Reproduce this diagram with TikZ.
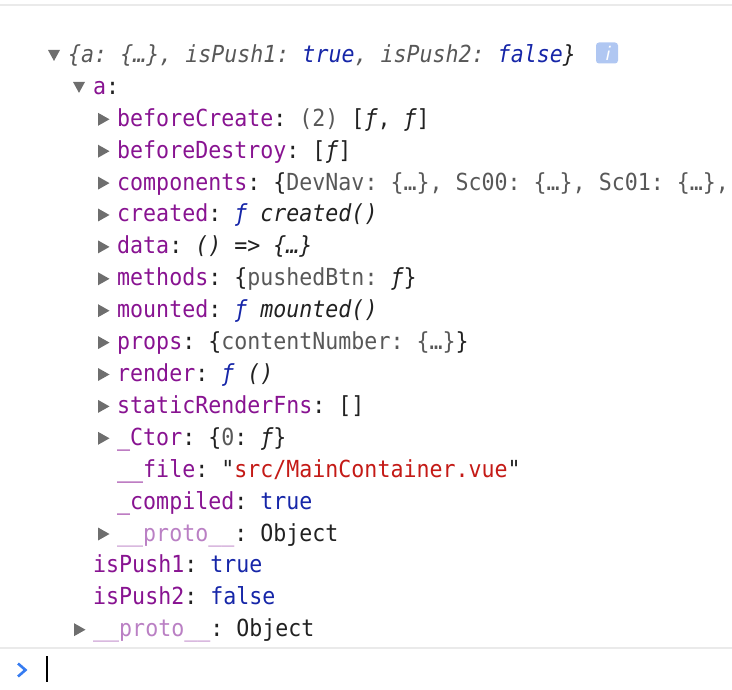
\documentclass[tikz,border=0pt]{standalone}
\usepackage{fontspec}
\setmonofont[FakeStretch=0.92]{DejaVu Sans Mono}
\usepackage{xcolor}
\definecolor{keyc}{RGB}{136,19,145}
\definecolor{protoc}{RGB}{186,128,196}
\definecolor{boolc}{RGB}{22,38,168}
\definecolor{strc}{RGB}{196,26,22}
\definecolor{prevc}{RGB}{88,88,88}
\definecolor{txtc}{RGB}{33,33,33}
\definecolor{arrc}{RGB}{110,110,110}
\definecolor{rulec}{RGB}{234,234,234}
\definecolor{infoc}{RGB}{176,199,242}
\definecolor{promptc}{RGB}{54,124,241}
\newcommand{\K}[1]{\textcolor{keyc}{#1}}
\newcommand{\B}[1]{\textcolor{boolc}{#1}}
\newcommand{\G}[1]{\textcolor{prevc}{#1}}
\newcommand{\F}{{\itshape ƒ}}
\newcommand{\shuttri}[2]{\fill[arrc] (#1,{62.5+31.9*#2-13.5}) -- ++(11.5,6.5) -- ++(-11.5,6.5) -- cycle;}
\newcommand{\opentri}[2]{\fill[arrc] (#1,{62.5+31.9*#2-12.5}) -- ++(12,0) -- ++(-6,11) -- cycle;}
\begin{document}
\begin{tikzpicture}[x=1pt,y=-1pt,
  entry/.style={anchor=base west,inner sep=0pt,text=txtc,font=\ttfamily\fontsize{23.5}{27}\selectfont}]
\useasboundingbox (0,0) rectangle (732,690);
\draw[rulec,line width=2pt] (0,5) -- (732,5);
\draw[rulec,line width=2pt] (0,648) -- (732,648);
% tree
\opentri{48}{0}
\node[entry] (head) at (68,62.5) {\itshape\G{\{a: \{…\}, isPush1: }\B{true}\G{, isPush2: }\B{false}\}};
\node[fill=infoc,rounded corners=3pt,minimum width=22pt,minimum height=21pt,inner sep=0pt,text=white,font=\sffamily\itshape\fontsize{22}{22}\selectfont] (info) at (607,53) {i};
\opentri{73}{1}
\node[entry] (a) at (93,{62.5+31.9*1}) {\K{a}:};
\foreach \k in {2,...,12,15} {\shuttri{98}{\k}}
\node[entry] (bcreate) at (117,{62.5+31.9*2}) {\K{beforeCreate}: \G{(2)} [\F, \F]};
\node[entry] (bdestroy) at (117,{62.5+31.9*3}) {\K{beforeDestroy}: [\F]};
\node[entry] (comps) at (117,{62.5+31.9*4}) {\K{components}: \{\G{DevNav: \{…\}, Sc00: \{…\}, Sc01: \{…\},}};
\node[entry] (created) at (117,{62.5+31.9*5}) {\K{created}: \B{\F} {\itshape created()}};
\node[entry] (data) at (117,{62.5+31.9*6}) {\K{data}: {\itshape () => \{…\}}};
\node[entry] (methods) at (117,{62.5+31.9*7}) {\K{methods}: \{\G{pushedBtn:} \F\}};
\node[entry] (mounted) at (117,{62.5+31.9*8}) {\K{mounted}: \B{\F} {\itshape mounted()}};
\node[entry] (props) at (117,{62.5+31.9*9}) {\K{props}: \{\G{contentNumber: \{…\}}\}};
\node[entry] (render) at (117,{62.5+31.9*10}) {\K{render}: \B{\F} {\itshape ()}};
\node[entry] (static) at (117,{62.5+31.9*11}) {\K{staticRenderFns}: []};
\node[entry] (ctor) at (117,{62.5+31.9*12}) {\K{\_Ctor}: \{\G{0}: \F\}};
\node[entry] (file) at (117,{62.5+31.9*13}) {\K{\_\_file}: "\textcolor{strc}{src/MainContainer.vue}"};
\node[entry] (compiled) at (117,{62.5+31.9*14}) {\K{\_compiled}: \B{true}};
\node[entry] (proto) at (117,{62.5+31.9*15}) {\textcolor{protoc}{\_\_proto\_\_}: Object};
\node[entry] (push1) at (93,{62.5+31.9*16}) {\K{isPush1}: \B{true}};
\node[entry] (push2) at (93,{62.5+31.9*17}) {\K{isPush2}: \B{false}};
\shuttri{74}{18}
\node[entry] (rootproto) at (93,{62.5+31.9*18}) {\textcolor{protoc}{\_\_proto\_\_}: Object};
% prompt
\draw[promptc,line width=2.6pt] (18,663.5) -- (25.5,670) -- (18,676.5);
\draw[black,line width=2pt] (47,656) -- (47,682);
\end{tikzpicture}
\end{document}
